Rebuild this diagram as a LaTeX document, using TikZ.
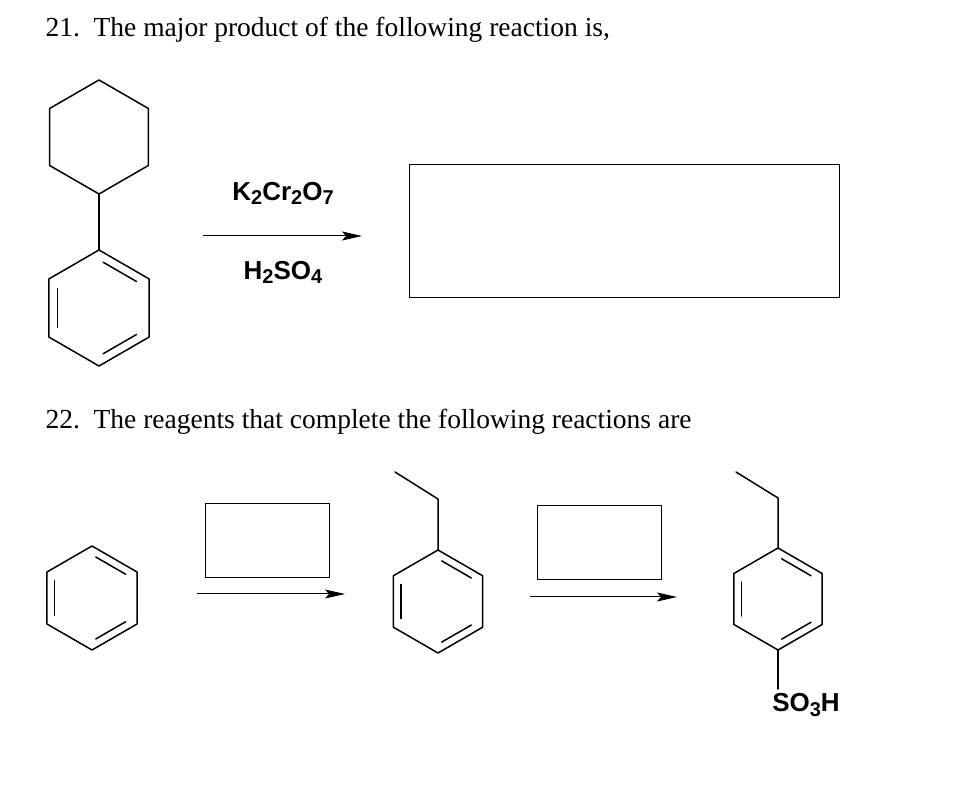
\documentclass[tikz,border=0pt]{standalone}
\usepackage{fontspec}
\setmainfont{Liberation Serif}
\newfontfamily\lsans{Liberation Sans}
\usetikzlibrary{calc,arrows.meta}
\newcommand\sbs[1]{\raisebox{-0.3ex}{\fontsize{20}{21}\selectfont #1}}
\tikzset{bond/.style={line width=1.5pt,line join=round,line cap=round},
 rxn/.style={line width=1pt,-{Stealth[length=20pt,width=9pt,inset=4pt]}},
 blank/.style={draw,line width=1pt},
 lbl/.style={font=\lsans\bfseries\fontsize{26}{28}\selectfont},
 hdr/.style={font=\fontsize{27.5}{30}\selectfont,anchor=base west}}
\newcommand\mybenz[3]{%
 \begin{scope}[shift={(#1,#2)}]
 \foreach \k in {0,...,5}{\coordinate (v\k) at ({90-60*\k}:#3); \coordinate (w\k) at ({90-60*\k}:{0.83*#3});}
 \draw[bond] (v0)--(v1)--(v2)--(v3)--(v4)--(v5)--cycle;
 \draw[bond] ($(w0)!0.1!(w1)$)--($(w1)!0.1!(w0)$);
 \draw[bond] ($(w2)!0.1!(w3)$)--($(w3)!0.1!(w2)$);
 \draw[bond] ($(w4)!0.1!(w5)$)--($(w5)!0.1!(w4)$);
 \end{scope}}
\begin{document}
\begin{tikzpicture}[x=1pt,y=1pt]
\useasboundingbox (0,0) rectangle (969,795);
\node[hdr] (q21) at (42,{795-37}) {21.\ \ The major product of the following reaction is,};
\node[hdr] (q22) at (42,{795-429}) {22.\ \ The reagents that complete the following reactions are};
\begin{scope}[shift={(99,{795-137})}]
\draw[bond] (90:57)--(30:57)--(-30:57)--(-90:57)--(-150:57)--(150:57)--cycle;
\end{scope}
\draw[bond] (99,{795-194})--(99,{795-250});
\mybenz{99}{795-308}{58}
\node[lbl] (r1) at (283,{795-193}) {K\sbs{2}Cr\sbs{2}O\sbs{7}};
\node[lbl] (r2) at (283,{795-272}) {H\sbs{2}SO\sbs{4}};
\coordinate (a1s) at (203,{795-236}); \coordinate (a1e) at (362,{795-236});
\draw[rxn] (a1s)--(a1e);
\node[blank,minimum width=430pt,minimum height=133pt,anchor=north west] (b1) at (409,{795-164}) {};
\mybenz{92}{795-598}{52}
\node[blank,minimum width=124pt,minimum height=74pt,anchor=north west] (b2) at (205,{795-503}) {};
\coordinate (a2s) at (197,{795-594}); \coordinate (a2e) at (345,{795-594});
\draw[rxn] (a2s)--(a2e);
\mybenz{438}{795-601.5}{51.5}
\draw[bond] (438,{795-550})--(438,{795-499})--(395,{795-472});
\node[blank,minimum width=124pt,minimum height=74pt,anchor=north west] (b3) at (537,{795-505}) {};
\coordinate (a3s) at (530,{795-597}); \coordinate (a3e) at (677,{795-597});
\draw[rxn] (a3s)--(a3e);
\mybenz{778}{795-599}{51}
\draw[bond] (778,{795-548})--(778,{795-498})--(736,{795-472});
\draw[bond] (778,{795-650})--(778,{795-689});
\node[lbl] (so3h) at (806,{795-705}) {SO\sbs{3}H};
\end{tikzpicture}
\end{document}
